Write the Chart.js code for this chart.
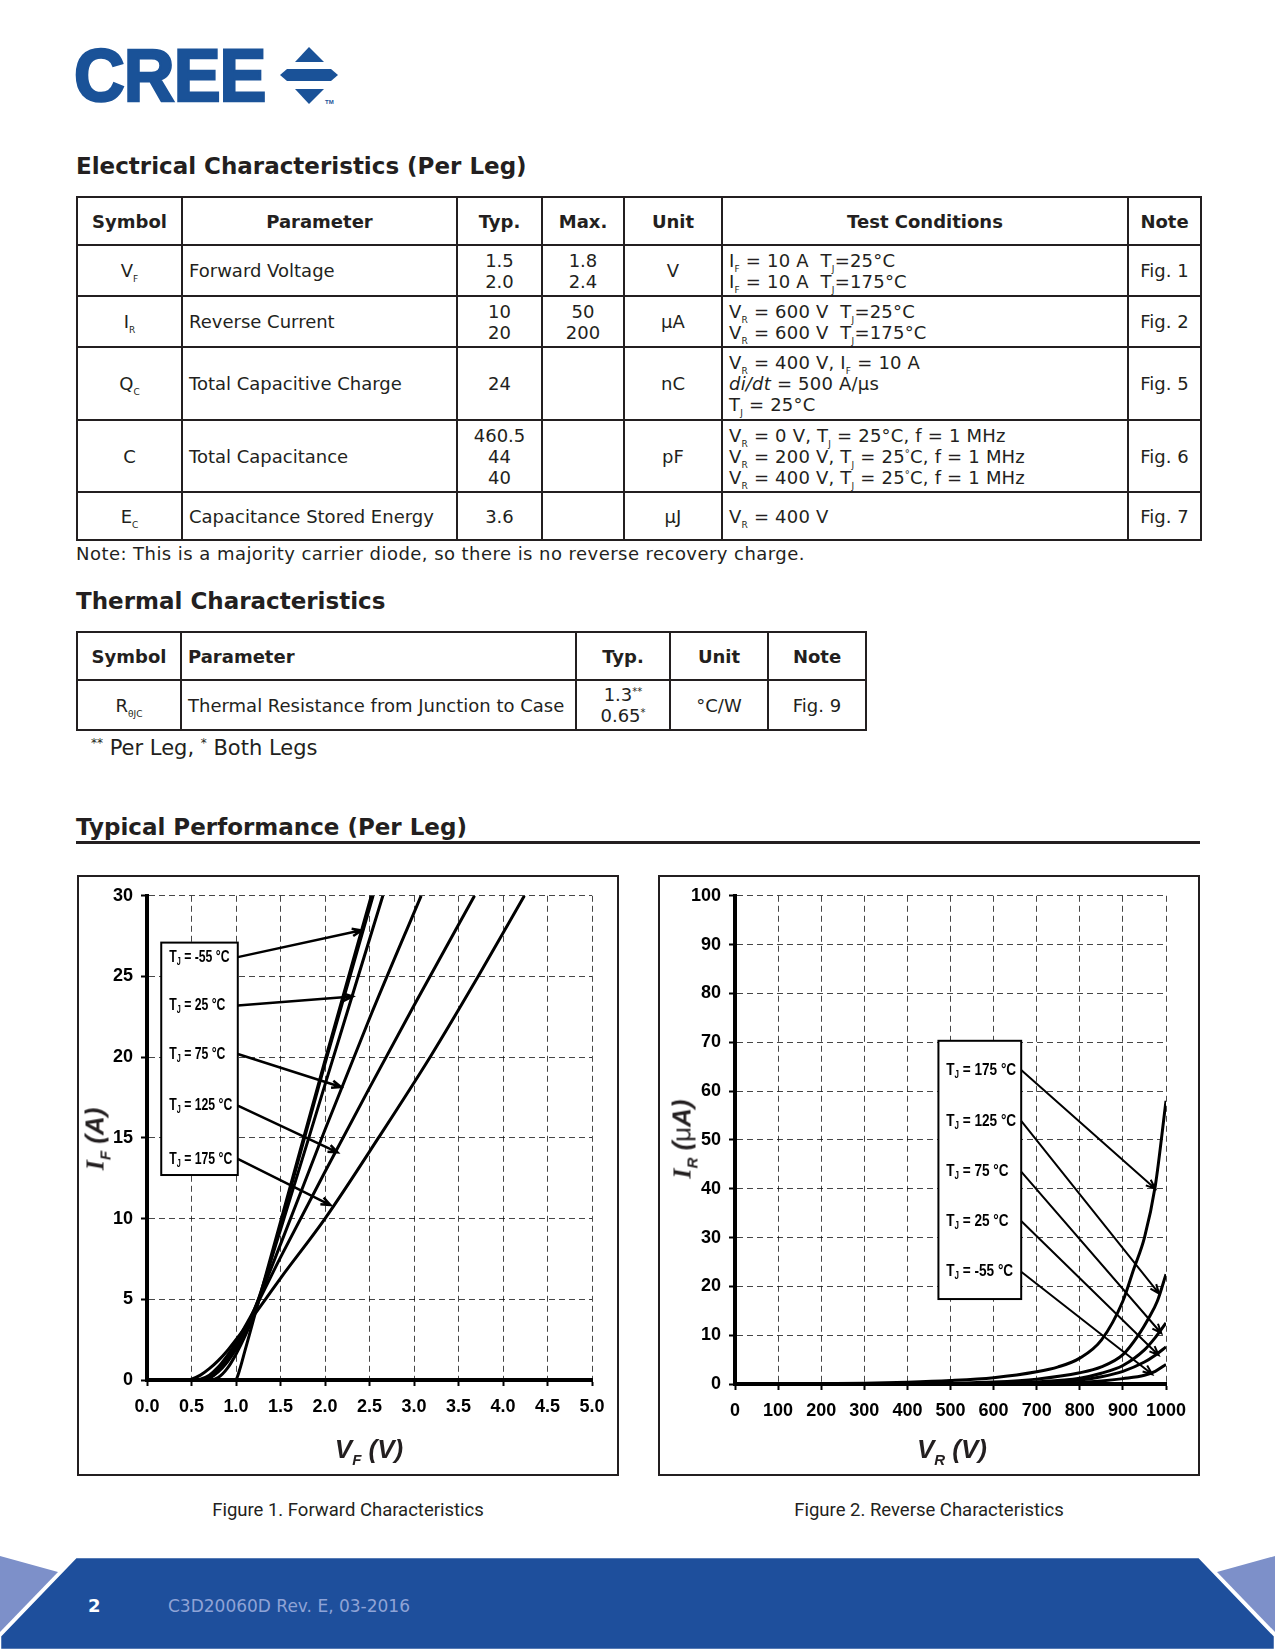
<!DOCTYPE html>
<html>
<head>
<meta charset="utf-8">
<script src="https://cdn.jsdelivr.net/npm/chart.js@4.4.1/dist/chart.umd.min.js"></script>
<style>
html, body { margin: 0; padding: 0; }
body { width: 1275px; height: 1650px; position: relative; overflow: hidden; background: #fff;
       color: #231f20; font-family: 'DejaVu Sans', Verdana, sans-serif; }
.a { position: absolute; white-space: nowrap; }
h2 { position: absolute; margin: 0; left: 76px; font-size: 23px; font-weight: bold; line-height: 28px; white-space: nowrap; }
table { position: absolute; border-collapse: collapse; table-layout: fixed; font-size: 18px; line-height: 21px; }
td, th { border: 2px solid #231f20; padding: 0 6px; vertical-align: middle; text-align: center; white-space: nowrap; overflow: hidden; }
th { font-size: 18px; }
.l { text-align: left; }
td.tc { letter-spacing: 0.2px; }
sub { font-size: 9px; vertical-align: -5px; line-height: 0; }
sup { font-size: 10px; vertical-align: 6px; line-height: 0; }
.frame { position: absolute; border: 2px solid #231f20; box-sizing: border-box; }
canvas { position: absolute; }
.ttl { position: absolute; font: italic bold 26px 'Liberation Sans', Arial, sans-serif; color: #231f20; white-space: nowrap; transform: translate(-50%, -50%); }
.ttl.rot { transform: translate(-50%, -50%) rotate(-90deg); }
.ttl sub { font-size: 15px; vertical-align: -7px; }
.ttl .s { font-family: 'Liberation Serif', serif; }
.cap { position: absolute; top: 1498px; width: 542px; text-align: center; font: 18.5px Roboto, sans-serif; line-height: 24px; }
</style>
</head>
<body>

<!-- logo -->
<div class="a" style="left:74px;top:39px;font:bold 74px/74px 'Liberation Sans',Arial,sans-serif;color:#1a5298;transform:scaleX(0.95);transform-origin:0 0;letter-spacing:-1px;-webkit-text-stroke:2.5px #1a5298;">CREE</div>
<svg class="a" style="left:275px;top:40px" width="70" height="70" viewBox="275 40 70 70">
  <polygon points="295,62 309,47 324,62" fill="#1a5298"/>
  <polygon points="280,75 287,69 331,69 338,75 331,81 287,81" fill="#1a5298"/>
  <polygon points="295,89 324,89 309,104" fill="#1a5298"/>
  <text x="325" y="104" font-size="6" font-weight="bold" fill="#1a5298" font-family="Liberation Sans">TM</text>
</svg>

<h2 style="top:152px">Electrical Characteristics (Per Leg)</h2>

<table style="left:76px;top:196px;width:1124px">
  <colgroup><col style="width:105px"><col style="width:275px"><col style="width:85px"><col style="width:82px"><col style="width:98px"><col style="width:406px"><col style="width:73px"></colgroup>
  <tr style="height:48px"><th>Symbol</th><th>Parameter</th><th>Typ.</th><th>Max.</th><th>Unit</th><th>Test Conditions</th><th>Note</th></tr>
  <tr style="height:51px"><td>V<sub>F</sub></td><td class="l">Forward Voltage</td><td>1.5<br>2.0</td><td>1.8<br>2.4</td><td>V</td>
      <td class="l tc">I<sub>F</sub> = 10 A&nbsp; T<sub>J</sub>=25°C<br>I<sub>F</sub> = 10 A&nbsp; T<sub>J</sub>=175°C</td><td>Fig. 1</td></tr>
  <tr style="height:51px"><td>I<sub>R</sub></td><td class="l">Reverse Current</td><td>10<br>20</td><td>50<br>200</td><td>μA</td>
      <td class="l tc">V<sub>R</sub> = 600 V&nbsp; T<sub>J</sub>=25°C<br>V<sub>R</sub> = 600 V&nbsp; T<sub>J</sub>=175°C</td><td>Fig. 2</td></tr>
  <tr style="height:73px"><td>Q<sub>C</sub></td><td class="l">Total Capacitive Charge</td><td>24</td><td></td><td>nC</td>
      <td class="l tc">V<sub>R</sub> = 400 V, I<sub>F</sub> = 10 A<br><i>di/dt</i> = 500 A/μs<br>T<sub>J</sub> = 25°C</td><td>Fig. 5</td></tr>
  <tr style="height:72px"><td>C</td><td class="l">Total Capacitance</td><td>460.5<br>44<br>40</td><td></td><td>pF</td>
      <td class="l tc">V<sub>R</sub> = 0 V, T<sub>J</sub> = 25°C, f = 1 MHz<br>V<sub>R</sub> = 200 V, T<sub>J</sub> = 25<sup>°</sup>C, f = 1 MHz<br>V<sub>R</sub> = 400 V, T<sub>J</sub> = 25<sup>°</sup>C, f = 1 MHz</td><td>Fig. 6</td></tr>
  <tr style="height:48px"><td>E<sub>C</sub></td><td class="l">Capacitance Stored Energy</td><td>3.6</td><td></td><td>μJ</td>
      <td class="l tc">V<sub>R</sub> = 400 V</td><td>Fig. 7</td></tr>
</table>
<div class="a" style="left:76px;top:543px;font-size:18px;line-height:22px;letter-spacing:0.45px">Note: This is a majority carrier diode, so there is no reverse recovery charge.</div>

<h2 style="top:587px">Thermal Characteristics</h2>
<table style="left:76px;top:631px;width:789px">
  <colgroup><col style="width:104px"><col style="width:395px"><col style="width:94px"><col style="width:98px"><col style="width:98px"></colgroup>
  <tr style="height:48px"><th>Symbol</th><th class="l">Parameter</th><th>Typ.</th><th>Unit</th><th>Note</th></tr>
  <tr style="height:50px"><td>R<sub>θJC</sub></td><td class="l">Thermal Resistance from Junction to Case</td><td>1.3<sup>**</sup><br>0.65<sup>*</sup></td><td>°C/W</td><td>Fig. 9</td></tr>
</table>
<div class="a" style="left:91px;top:735px;font-size:21px;line-height:26px"><sup style="font-size:12px;vertical-align:8px">**</sup> Per Leg, <sup style="font-size:12px;vertical-align:8px">*</sup> Both Legs</div>

<h2 style="top:813px">Typical Performance (Per Leg)</h2>
<div class="a" style="left:76px;top:841px;width:1124px;height:3px;background:#231f20"></div>

<!-- figure frames -->
<div class="frame" style="left:77px;top:875px;width:542px;height:601px"></div>
<div class="frame" style="left:658px;top:875px;width:542px;height:601px"></div>
<canvas id="fig1" width="538" height="597" style="left:79px;top:877px"></canvas>
<canvas id="fig2" width="538" height="597" style="left:660px;top:877px"></canvas>

<div class="ttl rot" style="left:95px;top:1139px"><span class="s">I</span><sub>F</sub> (A)</div>
<div class="ttl" style="left:369px;top:1449px">V<sub>F</sub> (V)</div>
<div class="ttl rot" style="left:682px;top:1139px"><span class="s">I</span><sub>R</sub> (<span style="font-weight:normal;font-style:normal">μ</span>A)</div>
<div class="ttl" style="left:952px;top:1449px">V<sub>R</sub> (V)</div>

<div class="cap" style="left:77px">Figure 1. Forward Characteristics</div>
<div class="cap" style="left:658px">Figure 2. Reverse Characteristics</div>

<!-- footer band -->
<svg class="a" style="left:0;top:1540px" width="1275" height="110" viewBox="0 1540 1275 110">
  <polygon points="0,1556 58,1572 0,1632" fill="#7d90c9"/>
  <polygon points="1275,1556 1217,1572 1275,1632" fill="#7d90c9"/>
  <polygon points="76,1557 1199,1557 1275,1636 1275,1650 0,1650 0,1636" fill="#1e4f9c" stroke="#fff" stroke-width="2.5"/>
</svg>
<div class="a" style="left:88px;top:1594px;font:bold 18px/24px 'DejaVu Sans',sans-serif;color:#fff">2</div>
<div class="a" style="left:168px;top:1594px;font:17px/24px 'DejaVu Sans',sans-serif;color:#8fa3d6">C3D20060D Rev. E, 03-2016</div>

<script>
// ---------- Fig. 1  forward characteristics  [V_F (V), I_F (A)] ----------
const IF_M55  = [[0,0],[0.95,0],[1.0,0.05],[1.05,0.8],[1.1,1.8],[1.2,3.8],[1.5,9.8],[2.0,19.8],[2.52,30]];
const IF_XTRA = [[0,0],[0.7,0],[0.8,0.15],[0.9,0.7],[1.0,1.6],[1.1,2.7],[1.2,4.0],[1.3,5.7],[1.5,9.6],[2.0,19.6],[2.54,30]];
const IF_25   = [[0,0],[0.65,0],[0.7,0.1],[0.8,0.5],[0.9,1.1],[1.0,1.9],[1.1,2.9],[1.2,4.2],[1.5,9.3],[2.0,18.3],[2.65,30]];
const IF_75   = [[0,0],[0.6,0],[0.7,0.2],[0.8,0.65],[0.9,1.3],[1.0,2.1],[1.1,3.1],[1.2,4.3],[1.5,8.4],[2.0,15.5],[2.5,22.4],[3.08,30]];
const IF_125  = [[0,0],[0.55,0],[0.6,0.05],[0.7,0.3],[0.8,0.8],[0.9,1.5],[1.0,2.3],[1.1,3.3],[1.2,4.3],[1.5,7.6],[2.0,12.9],[2.5,18.1],[3.0,23.2],[3.68,30]];
const IF_175  = [[0,0],[0.45,0],[0.5,0.05],[0.6,0.3],[0.7,0.7],[0.8,1.2],[0.9,1.8],[1.0,2.5],[1.2,4.0],[1.5,6.3],[2.0,10.0],[2.6,15.0],[3.18,20.0],[3.72,25.0],[4.24,30]];

// ---------- Fig. 2  reverse characteristics  [V_R (V), I_R (uA)] ----------
const IR_M55 = [[0,0],[650,0],[700,0.05],[800,0.3],[850,0.6],[900,1.1],[950,1.8],[975,2.6],[1000,4.0]];
const IR_25  = [[0,0],[550,0],[600,0.05],[700,0.25],[800,0.8],[850,1.5],[900,2.6],[950,4.5],[975,5.9],[1000,7.6]];
const IR_75  = [[0,0],[450,0],[500,0.05],[600,0.15],[700,0.45],[800,1.2],[850,2.2],[900,3.8],[950,7.0],[975,9.5],[1000,12.5]];
const IR_125 = [[0,0],[350,0],[400,0.05],[500,0.15],[600,0.4],[700,1.0],[800,2.3],[850,3.5],[900,6.0],[936,10],[960,13.5],[980,17],[1000,22.5]];
const IR_175 = [[0,0],[150,0],[200,0.05],[300,0.15],[400,0.35],[500,0.7],[600,1.3],[700,2.5],[750,3.5],[800,5.3],[850,9.0],[900,17],[925,23.5],[950,30],[975,40.5],[1000,58]];

// callout labels (T_J) and where each arrow ends, in data units
const FWD_TEMPS = ['-55', '25', '75', '125', '175'];
const FWD_LABEL_Y = [26.2, 23.2, 20.2, 17.0, 13.7];
const FWD_TIP_X = [2.41, 2.31, 2.18, 2.14, 2.06];
const FWD_TIP_Y = [27.86, 23.76, 18.15, 14.1, 10.84];

const REV_TEMPS = ['175', '125', '75', '25', '-55'];
const REV_LABEL_Y = [64.3, 53.9, 43.5, 33.4, 23.0];
const REV_TIP_X = [975, 984, 989, 983, 968];
const REV_TIP_Y = [40, 18.5, 10.4, 5.9, 2.0];

const TICK_FONT = { family: '"Liberation Sans", Arial, sans-serif', size: 18, weight: 'bold' };
const GRID_COLOR = 'rgba(0,0,0,0.72)';
const LABEL_FONT = '"Liberation Sans", Arial, sans-serif';

// T_J = xx °C, squeezed sideways to look like the narrow original font
function drawTj(ctx, x, y, temp, squeeze) {
  ctx.save();
  ctx.translate(x, y);
  ctx.scale(squeeze, 1);
  ctx.fillStyle = '#000';
  ctx.textBaseline = 'middle';
  ctx.font = 'bold 17px ' + LABEL_FONT;
  ctx.fillText('T', 0, 0);
  let w = ctx.measureText('T').width;
  ctx.font = 'bold 10px ' + LABEL_FONT;
  ctx.fillText('J', w, 5);
  w += ctx.measureText('J').width;
  ctx.font = 'bold 17px ' + LABEL_FONT;
  ctx.fillText(' = ' + temp + ' °C', w, 0);
  ctx.restore();
}

function drawArrow(ctx, x1, y1, x2, y2, lw) {
  const a = Math.atan2(y2 - y1, x2 - x1);
  const head = 10;
  ctx.lineWidth = lw;
  ctx.strokeStyle = '#000';
  ctx.beginPath();
  ctx.moveTo(x1, y1);
  ctx.lineTo(x2, y2);
  ctx.moveTo(x2 - head * Math.cos(a - 0.38), y2 - head * Math.sin(a - 0.38));
  ctx.lineTo(x2, y2);
  ctx.lineTo(x2 - head * Math.cos(a + 0.38), y2 - head * Math.sin(a + 0.38));
  ctx.stroke();
}

const calloutPlugin = {
  id: 'callouts',
  afterDatasetsDraw(chart, args, o) {
    const ctx = chart.ctx;
    const px = v => chart.scales.x.getPixelForValue(v);
    const py = v => chart.scales.y.getPixelForValue(v);
    const left = px(o.boxX[0]), right = px(o.boxX[1]);
    const top = py(o.boxY[0]), bottom = py(o.boxY[1]);
    ctx.save();
    ctx.fillStyle = '#fff';
    ctx.fillRect(left, top, right - left, bottom - top);
    ctx.lineWidth = 2;
    ctx.strokeStyle = '#000';
    ctx.strokeRect(left, top, right - left, bottom - top);
    o.temps.forEach((t, i) => {
      const ly = py(o.labelY[i]);
      drawTj(ctx, px(o.textX), ly, t, o.squeeze);
      drawArrow(ctx, right, ly, px(o.tipX[i]), py(o.tipY[i]), o.arrowWidth);
    });
    ctx.restore();
  }
};

function axis(a, size, isX) {
  return {
    type: 'linear',
    min: a.min,
    max: a.max,
    afterFit: s => { if (isX) s.height = size; else s.width = size; },
    ticks: {
      stepSize: a.step, autoSkip: false, maxRotation: 0, minRotation: 0,
      padding: isX ? 10 : 8, color: '#000', font: TICK_FONT, callback: a.fmt
    },
    grid: { color: GRID_COLOR, lineWidth: 1, tickLength: 6, tickColor: '#000', tickWidth: 2 },
    border: { display: true, color: '#000', width: 4, dash: [6, 4] }
  };
}

function makeChart(id, series, xAxis, yAxis, box, callouts) {
  const datasets = series.map(s => ({
    label: s.name,
    data: s.points.map(p => ({ x: p[0], y: p[1] })),
    borderColor: '#000',
    borderWidth: 3,
    pointRadius: 0,
    cubicInterpolationMode: 'monotone',
    fill: false
  }));
  return new Chart(document.getElementById(id), {
    type: 'line',
    data: { datasets },
    options: {
      responsive: false,
      animation: false,
      events: [],
      layout: { padding: { left: 0, top: box.top, right: box.right, bottom: 0 } },
      plugins: { legend: { display: false }, tooltip: { enabled: false }, callouts },
      scales: { x: axis(xAxis, box.xh, true), y: axis(yAxis, box.yw, false) }
    },
    plugins: [calloutPlugin]
  });
}

makeChart('fig1',
  [
    { name: 'T_J = -55 °C', points: IF_M55 },
    { name: 'unlabelled trace', points: IF_XTRA },
    { name: 'T_J = 25 °C', points: IF_25 },
    { name: 'T_J = 75 °C', points: IF_75 },
    { name: 'T_J = 125 °C', points: IF_125 },
    { name: 'T_J = 175 °C', points: IF_175 }
  ],
  { min: 0, max: 5, step: 0.5, fmt: v => v.toFixed(1) },
  { min: 0, max: 30, step: 5, fmt: v => v },
  { top: 17, right: 25, yw: 68, xh: 94 },
  { boxX: [0.16, 1.02], boxY: [27.1, 12.7], textX: 0.25, temps: FWD_TEMPS, squeeze: 0.72,
    labelY: FWD_LABEL_Y, tipX: FWD_TIP_X, tipY: FWD_TIP_Y, arrowWidth: 2.5 }
);

makeChart('fig2',
  [
    { name: 'T_J = -55 °C', points: IR_M55 },
    { name: 'T_J = 25 °C', points: IR_25 },
    { name: 'T_J = 75 °C', points: IR_75 },
    { name: 'T_J = 125 °C', points: IR_125 },
    { name: 'T_J = 175 °C', points: IR_175 }
  ],
  { min: 0, max: 1000, step: 100, fmt: v => v },
  { min: 0, max: 100, step: 10, fmt: v => v },
  { top: 17, right: 32, yw: 75, xh: 90 },
  { boxX: [472, 664], boxY: [70.3, 17.4], textX: 490, temps: REV_TEMPS, squeeze: 0.8,
    labelY: REV_LABEL_Y, tipX: REV_TIP_X, tipY: REV_TIP_Y, arrowWidth: 2 }
);
</script>
</body>
</html>
